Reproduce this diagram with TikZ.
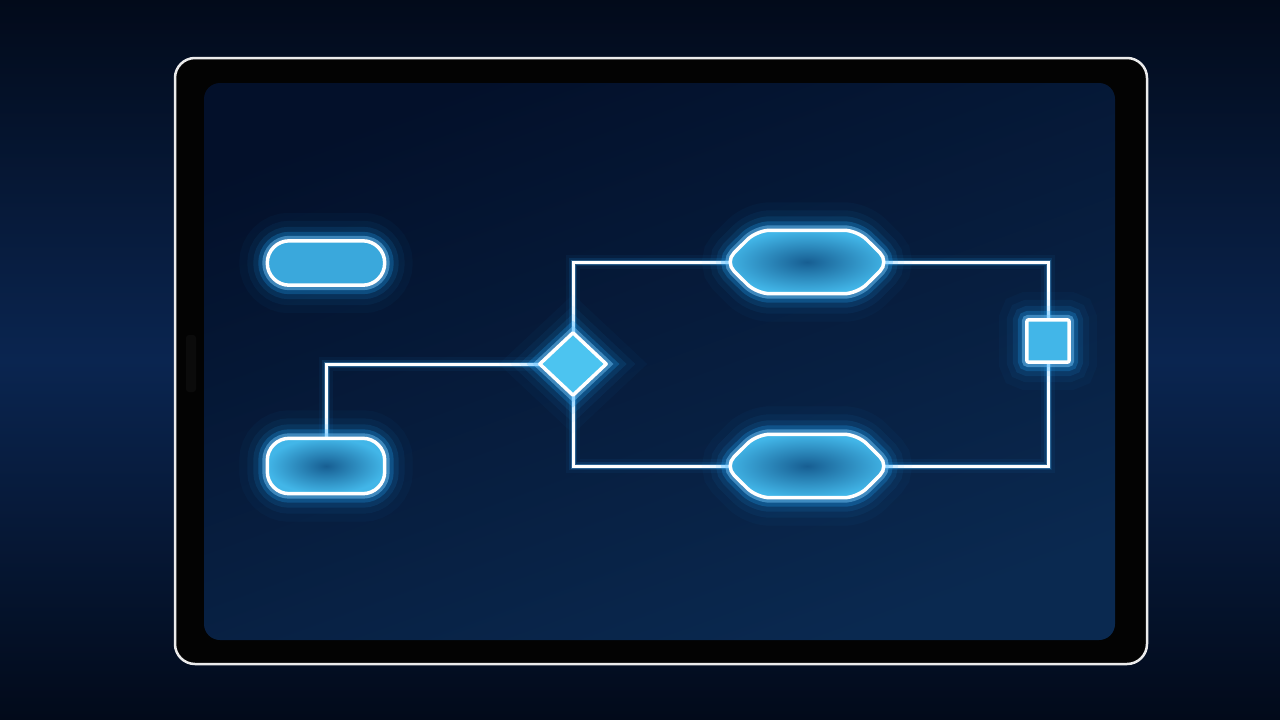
\documentclass[tikz,border=0pt]{standalone}
\usetikzlibrary{shapes.geometric,shapes.misc}
\definecolor{bgdark}{HTML}{020A1A}
\definecolor{bgmid}{HTML}{0A2550}
\definecolor{scrtop}{HTML}{03102A}
\definecolor{scrbot}{HTML}{0A2950}
\definecolor{bezel}{HTML}{030303}
\definecolor{glowc}{HTML}{1FA8FF}
\definecolor{fillA}{HTML}{3AA8DC}
\definecolor{fillB}{HTML}{42B6E8}
\definecolor{fillDark}{HTML}{175E92}
\definecolor{fillDiam}{HTML}{4CC4F0}
\tikzset{
  glowbig/.style={
    preaction={draw=glowc,line width=56pt,draw opacity=0.035},
    preaction={draw=glowc,line width=40pt,draw opacity=0.06},
    preaction={draw=glowc,line width=28pt,draw opacity=0.11},
    preaction={draw=glowc,line width=18pt,draw opacity=0.24},
    preaction={draw=glowc!60!white,line width=10pt,draw opacity=0.45}},
  glowsmall/.style={
    preaction={draw=glowc,line width=14pt,draw opacity=0.05},
    preaction={draw=glowc,line width=8pt,draw opacity=0.12},
    preaction={draw=glowc!60!white,line width=5pt,draw opacity=0.30}},
  neon/.style={draw=white,line width=3.5pt},
  conn/.style={glowsmall,draw=white,line width=3pt},
  anchorbox/.style={rectangle,draw=none,inner sep=0pt},
  stad/.style={rectangle,rounded corners=22pt,inner sep=0pt,glowbig,neon},
}
\begin{document}
\begin{tikzpicture}[x=1pt,y=-1pt]
\useasboundingbox (0,0) rectangle (1280,720);
% background
\shade[top color=bgdark,bottom color=bgdark,middle color=bgmid] (0,0) rectangle (1280,720);
% tablet
\draw[draw=white!85!gray,line width=2.5pt,fill=bezel,rounded corners=20pt] (175,58) rectangle (1147,664);
\fill[gray!15!black,opacity=0.5,rounded corners=3pt] (186,335) rectangle (196,392);
\shade[top color=scrtop,bottom color=scrbot,shading angle=20,rounded corners=16pt] (204,83) rectangle (1115,640);

% nodes (positions)
\node[anchorbox,minimum width=117pt,minimum height=44pt] (s1) at (326,263) {};
\node[anchorbox,minimum width=117pt,minimum height=55pt] (s2) at (326,466) {};
\node[diamond,inner sep=0pt,minimum width=66pt,minimum height=62pt] (d) at (573,364) {};
\node[anchorbox,minimum width=164pt,minimum height=63pt] (h1) at (807,262) {};
\node[anchorbox,minimum width=164pt,minimum height=63pt] (h2) at (807,466) {};
\node[anchorbox,minimum width=42pt,minimum height=42pt] (sq) at (1048,341) {};

% connectors (ends tucked under the shapes)
\draw[conn] (s2.north) |- (d.west);
\draw[conn] (d.north) |- ([xshift=8pt]h1.west);
\draw[conn] ([xshift=-8pt]h1.east) -| (sq.north);
\draw[conn] (sq.south) |- ([xshift=-8pt]h2.east);
\draw[conn] ([xshift=8pt]h2.west) -| (d.south);

% stadiums
\path[stad,fill=fillA] (s1.north west) rectangle (s1.south east);
\path[stad,shade,inner color=fillDark,outer color=fillB] (s2.north west) rectangle (s2.south east);
% diamond
\path[glowbig,neon,fill=fillDiam,line join=round] (d.west) -- (d.north) -- (d.east) -- (d.south) -- cycle;
% hexagons
\path[glowbig,neon,shade,inner color=fillDark,outer color=fillB,rounded corners=13pt]
  (h1.west) -- ([xshift=32pt]h1.north west) -- ([xshift=-32pt]h1.north east) -- (h1.east)
  -- ([xshift=-32pt]h1.south east) -- ([xshift=32pt]h1.south west) -- cycle;
\path[glowbig,neon,shade,inner color=fillDark,outer color=fillB,rounded corners=13pt]
  (h2.west) -- ([xshift=32pt]h2.north west) -- ([xshift=-32pt]h2.north east) -- (h2.east)
  -- ([xshift=-32pt]h2.south east) -- ([xshift=32pt]h2.south west) -- cycle;
% square
\path[glowbig,neon,fill=fillB,rounded corners=2pt] (sq.north west) rectangle (sq.south east);
\end{tikzpicture}
\end{document}
